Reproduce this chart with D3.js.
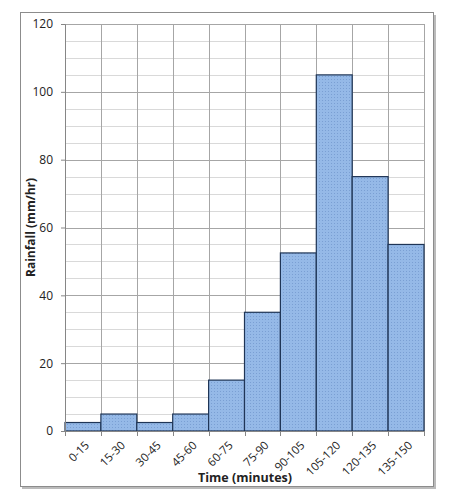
<!doctype html>
<html lang="en">
  <head>
    <meta charset="utf-8">
    <title>Rainfall histogram</title>
    <script src="https://d3js.org/d3.v7.min.js"></script>
    <style>
      body { margin: 0; background: #fff; }
      text { font-family: "Open Sans", Lato, sans-serif; fill: #222; }
    </style>
  </head>
  <body>
    <div class="holder"></div>
    <script>
      // chart data
      const categories = ['0-15','15-30','30-45','45-60','60-75','75-90','90-105','105-120','120-135','135-150'];
      const rainfall = [2.5, 5, 2.5, 5, 15, 35, 52.5, 105, 75, 55];
      const yTicks = [0, 20, 40, 60, 80, 100, 120];

      const w = 476;
      const h = 501;
      const margin = {left: 65, right: 52, top: 24, bottom: 70};

      const svg = d3.select('.holder')
        .append('svg')
        .attr('width', w)
        .attr('height', h);

      // dotted fill like the original
      const pat = svg.append('defs').append('pattern')
        .attr('id', 'dots')
        .attr('width', 3)
        .attr('height', 3)
        .attr('patternUnits', 'userSpaceOnUse');
      pat.append('rect').attr('width', 3).attr('height', 3).attr('fill', '#95b9e7');
      pat.append('rect').attr('x', 1).attr('y', 1).attr('width', 1).attr('height', 1).attr('fill', '#7a9fd3');

      // outer frame with shadow
      svg.append('rect')
        .attr('x', 22).attr('y', 15)
        .attr('width', 414).attr('height', 474)
        .attr('fill', '#bbb');
      svg.append('rect')
        .attr('x', 20.5).attr('y', 12.5)
        .attr('width', 413).attr('height', 474)
        .attr('fill', '#fff')
        .attr('stroke', '#8c8c8c');

      const x = d3.scaleBand()
        .domain(categories)
        .range([margin.left, w - margin.right])
        .padding(0);

      const y = d3.scaleLinear()
        .domain([0, 120])
        .range([h - margin.bottom, margin.top]);

      // minor gridlines every 5
      svg.append('g')
        .selectAll('line')
        .data(d3.range(5, 120, 5).filter(v => v % 20 !== 0))
        .enter()
        .append('line')
        .attr('x1', margin.left).attr('x2', w - margin.right)
        .attr('y1', d => Math.round(y(d)) + 0.5).attr('y2', d => Math.round(y(d)) + 0.5)
        .attr('stroke', '#d9d9d9');

      // major gridlines
      svg.append('g')
        .selectAll('line')
        .data(yTicks)
        .enter()
        .append('line')
        .attr('x1', margin.left).attr('x2', w - margin.right)
        .attr('y1', d => Math.round(y(d)) + 0.5).attr('y2', d => Math.round(y(d)) + 0.5)
        .attr('stroke', '#a6a6a6');

      // vertical gridlines at category boundaries
      svg.append('g')
        .selectAll('line')
        .data(categories.slice(1).concat(['end']))
        .enter()
        .append('line')
        .attr('x1', (d, i) => Math.round(x(categories[0]) + x.bandwidth() * (i + 1)) + 0.5)
        .attr('x2', (d, i) => Math.round(x(categories[0]) + x.bandwidth() * (i + 1)) + 0.5)
        .attr('y1', margin.top).attr('y2', h - margin.bottom)
        .attr('stroke', '#a6a6a6');

      // bars
      svg.selectAll('.bar')
        .data(rainfall)
        .enter()
        .append('rect')
        .attr('class', 'bar')
        .attr('x', (d, i) => x(categories[i]))
        .attr('y', d => y(d))
        .attr('width', x.bandwidth())
        .attr('height', d => y(0) - y(d))
        .attr('fill', 'url(#dots)')
        .attr('stroke', '#1f3556')
        .attr('stroke-width', 1.2);

      // axes
      const yAxis = d3.axisLeft(y).tickValues(yTicks).tickSize(4).tickPadding(8);
      const yg = svg.append('g')
        .attr('transform', 'translate(' + margin.left + ',0)')
        .call(yAxis);
      yg.select('.domain').attr('stroke', '#868686');
      yg.selectAll('.tick line').attr('stroke', '#868686');
      yg.selectAll('text').style('font-size', '12px').attr('fill', '#222');

      const xAxis = d3.axisBottom(x).tickSize(0).tickPadding(0);
      const xg = svg.append('g')
        .attr('transform', 'translate(0,' + (h - margin.bottom) + ')')
        .call(xAxis);
      xg.select('.domain').attr('stroke', '#868686');
      xg.selectAll('.tick text')
        .style('font-size', '11.5px')
        .attr('fill', '#222')
        .attr('text-anchor', 'end')
        .attr('dy', 0)
        .attr('transform', 'translate(7,15) rotate(-45)');

      // boundary tick marks below axis
      xg.selectAll('.bt')
        .data(categories.concat(['end']))
        .enter()
        .append('line')
        .attr('x1', (d, i) => Math.round(x(categories[0]) + x.bandwidth() * i) + 0.5)
        .attr('x2', (d, i) => Math.round(x(categories[0]) + x.bandwidth() * i) + 0.5)
        .attr('y1', 0).attr('y2', 5)
        .attr('stroke', '#868686');

      // titles
      svg.append('text')
        .attr('x', 245)
        .attr('y', 482)
        .attr('text-anchor', 'middle')
        .style('font-size', '12.5px')
        .style('font-weight', 'bold')
        .text('Time (minutes)');

      svg.append('text')
        .attr('transform', 'translate(31,' + ((margin.top + h - margin.bottom) / 2) + ') rotate(-90)')
        .attr('text-anchor', 'middle')
        .attr('dy', '0.35em')
        .style('font-size', '12px')
        .style('font-weight', 'bold')
        .text('Rainfall (mm/hr)');
    </script>
  </body>
</html>
